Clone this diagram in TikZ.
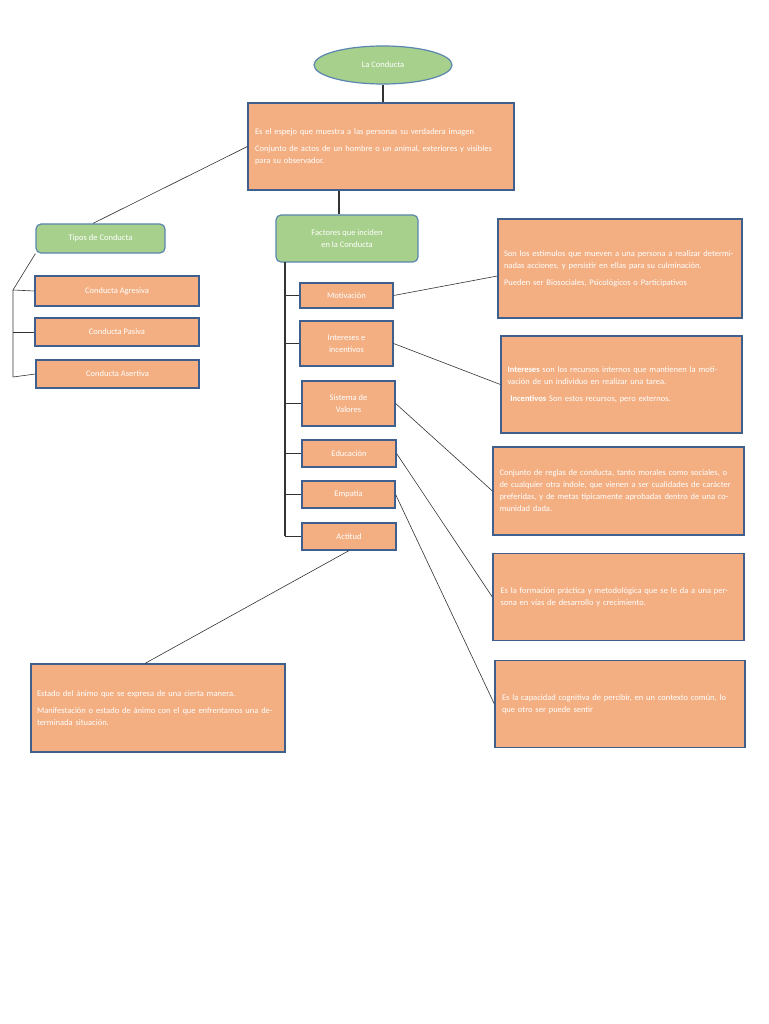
\documentclass[tikz,border=0pt]{standalone}
\usepackage{fontspec}
\setmainfont{Carlito}
\usetikzlibrary{shapes.geometric}
\definecolor{orf}{HTML}{F3AF82}
\definecolor{bl}{HTML}{3F5F8F}
\definecolor{gr}{HTML}{A8D08D}
\definecolor{gb}{HTML}{5A86B0}
\begin{document}
\begin{tikzpicture}[x=1pt,y=-1pt,
 ob/.style={draw=bl,line width=1.2pt,fill=orf,text=white,font=\fontsize{8.5}{12}\selectfont,inner sep=0pt},
 gbx/.style={draw=gb,line width=1.2pt,fill=gr,text=white,font=\fontsize{8.5}{12}\selectfont,rounded corners=5pt,inner sep=0pt},
 ln/.style={draw=black!80,line width=0.6pt}]
\useasboundingbox (0,0) rectangle (768,1024);
\fill[white] (0,0) rectangle (768,1024);
\newcommand{\bx}[7]{\node[#1,minimum width=#4-#2,minimum height=#5-#3,align=#6,text width=#4-#2-14] (#7) at ({(#2+#4)/2},{(#3+#5)/2}) {};}
% ellipse
\node[ellipse,draw=gb,line width=1.2pt,fill=gr,text=white,font=\fontsize{8.5}{12}\selectfont,minimum width=138,minimum height=38] (lc) at (383,65) {La Conducta};
% main boxes
\node[ob,minimum width=266,minimum height=87,text width=252,align=left] (top) at (381,146.5) {Es el espejo que muestra a las personas su verdadera imagen\\[5pt]Conjunto de actos de un hombre o un animal, exteriores y visibles para su observador.};
\node[gbx,minimum width=129,minimum height=29] (tip) at (100.5,238.5) {Tipos de Conducta};
\node[ob,minimum width=164,minimum height=30] (ag) at (117,291) {Conducta Agresiva};
\node[ob,minimum width=164,minimum height=28] (pa) at (117,332) {Conducta Pasiva};
\node[ob,minimum width=163,minimum height=28] (as) at (117.5,374) {Conducta Asertiva};
\node[gbx,minimum width=142,minimum height=47,align=center] (fac) at (347,238.5) {Factores que inciden\\en la Conducta};
\node[ob,minimum width=93,minimum height=25] (mo) at (346.5,295.5) {Motivación};
\node[ob,minimum width=93,minimum height=45,align=center] (in) at (346.5,343.5) {Intereses e\\incentivos};
\node[ob,minimum width=93,minimum height=45,align=center] (si) at (348.5,403.5) {Sistema de\\Valores};
\node[ob,minimum width=94,minimum height=27] (ed) at (349,453.5) {Educación};
\node[ob,minimum width=93,minimum height=27] (em) at (348.5,494.5) {Empatía};
\node[ob,minimum width=94,minimum height=27] (ac) at (349,536.5) {Actitud};
\node[ob,minimum width=244,minimum height=99,text width=232,align=left] (r1) at (620,268.5) {Son los estímulos que mueven a una persona a realizar determinadas acciones, y persistir en ellas para su culminación.\\[5pt]Pueden ser Biosociales, Psicológicos o Participativos};
\node[ob,minimum width=241,minimum height=97,text width=228,align=left] (r2) at (621.5,384.5) {\textbf{Intereses} son los recursos internos que mantienen la motivación de un individuo en realizar una tarea.\\[5pt]\ \textbf{Incentivos} Son estos recursos, pero externos.};
\node[ob,minimum width=251,minimum height=88,text width=238,align=left] (r3) at (618.5,491) {Conjunto de reglas de conducta, tanto morales como sociales, o de cualquier otra índole, que vienen a ser cualidades de carácter preferidas, y de metas típicamente aprobadas dentro de una comunidad dada.};
\node[ob,minimum width=251,minimum height=87,text width=236,align=left,anchor=north] (r4) at (618.5,553) {\\[-6pt]Es la formación práctica y metodológica que se le da a una persona en vías de desarrollo y crecimiento.};
\node[ob,minimum width=250,minimum height=87,text width=236,align=left,anchor=north] (r5) at (620,660) {\\[-6pt]Es la capacidad cognitiva de percibir, en un contexto común, lo que otro ser puede sentir};
\node[ob,minimum width=254,minimum height=88,text width=242,align=left] (lb) at (158,708) {Estado del ánimo que se expresa de una cierta manera.\\[5pt]Manifestación o estado de ánimo con el que enfrentamos una determinada situación.};
% connectors
\draw[ln,line width=1.2pt] (lc.south) -- (top.north -| lc.south);
\draw[ln,line width=1.2pt] (top.south -| 339,0) -- (fac.north -| 339,0);
\draw[ln] (top.west) -- (tip.north -| 93,0);
\coordinate (b1) at (13,290); \coordinate (b3) at (13,377);
\draw[ln] (tip.south west) -- (b1) -- (b3);
\draw[ln] (b1) -- (ag.west);
\draw[ln] (13,332) -- (pa.west);
\draw[ln] (b3) -- (as.west);
\coordinate (v0) at (285,262); \coordinate (v1) at (285,536);
\draw[ln,line width=1.2pt] (v0) -- (v1);
\foreach \n in {mo,in,si,ed,em,ac} \draw[ln,line width=1pt] (\n.west -| v0) -- (\n.west);
\draw[ln] (mo.east) -- (r1.west |- 0,276);
\draw[ln] (in.east) -- (r2.west);
\draw[ln] (si.east) -- (r3.west);
\draw[ln] (ed.east) -- (r4.west);
\draw[ln] (em.east) -- (r5.west);
\draw[ln] (ac.south) -- (lb.north -| 145,0);
\end{tikzpicture}
\end{document}
